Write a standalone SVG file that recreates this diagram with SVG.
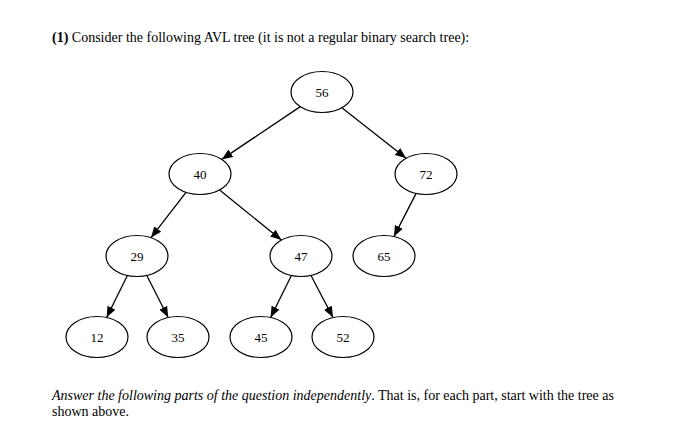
<svg xmlns="http://www.w3.org/2000/svg" width="700" height="429" viewBox="0 0 700 429">
<style>
text{font-family:"Liberation Serif",serif;fill:#000}
.t{font-size:14px}
.n ellipse{fill:#fff;stroke:#000;stroke-width:1.2}
.n text{font-size:13px;text-anchor:middle}
.e line{stroke:#000;stroke-width:1.3;marker-end:url(#a)}
</style>
<defs><marker id="a" viewBox="0 0 10 8" refX="10" refY="4" markerWidth="11" markerHeight="9" markerUnits="userSpaceOnUse" orient="auto"><path d="M0,0L10,4L0,8Z" fill="#000"/></marker></defs>
<rect width="700" height="429" fill="#fff"/>
<text class="t" x="52" y="42"><tspan font-weight="bold">(1)</tspan> Consider the following AVL tree (it is not a regular binary search tree):</text>
<g class="e">
<line x1="300.3" y1="106.6" x2="221.7" y2="159.4"/>
<line x1="341.9" y1="107.7" x2="406.1" y2="158.3"/>
<line x1="186" y1="192.3" x2="151" y2="237.7"/>
<line x1="219.6" y1="189.9" x2="281.4" y2="240.1"/>
<line x1="416.1" y1="193.4" x2="393.9" y2="236.6"/>
<line x1="127.4" y1="275.5" x2="106.6" y2="317.5"/>
<line x1="146.8" y1="275.5" x2="168.2" y2="317.5"/>
<line x1="291.4" y1="275.5" x2="270.6" y2="317.5"/>
<line x1="311" y1="275.5" x2="333" y2="317.5"/>
</g>
<g class="n" id="n56"><ellipse cx="322" cy="92" rx="31" ry="20.5"/><text x="322" y="96.5">56</text></g>
<g class="n" id="n40"><ellipse cx="200" cy="174" rx="31" ry="20.5"/><text x="200" y="178.5">40</text></g>
<g class="n" id="n72"><ellipse cx="426" cy="174" rx="31" ry="20.5"/><text x="426" y="178.5">72</text></g>
<g class="n" id="n29"><ellipse cx="137" cy="256" rx="31" ry="20.5"/><text x="137" y="260.5">29</text></g>
<g class="n" id="n47"><ellipse cx="301" cy="256" rx="31" ry="20.5"/><text x="301" y="260.5">47</text></g>
<g class="n" id="n65"><ellipse cx="384" cy="256" rx="31" ry="20.5"/><text x="384" y="260.5">65</text></g>
<g class="n" id="n12"><ellipse cx="97" cy="337" rx="31" ry="20.5"/><text x="97" y="341.5">12</text></g>
<g class="n" id="n35"><ellipse cx="178" cy="337" rx="31" ry="20.5"/><text x="178" y="341.5">35</text></g>
<g class="n" id="n45"><ellipse cx="261" cy="337" rx="31" ry="20.5"/><text x="261" y="341.5">45</text></g>
<g class="n" id="n52"><ellipse cx="343" cy="337" rx="31" ry="20.5"/><text x="343" y="341.5">52</text></g>
<text class="t" x="52" y="400"><tspan font-style="italic">Answer the following parts of the question independently</tspan>. That is, for each part, start with the tree as</text>
<text class="t" x="52" y="416">shown above.</text>
</svg>
